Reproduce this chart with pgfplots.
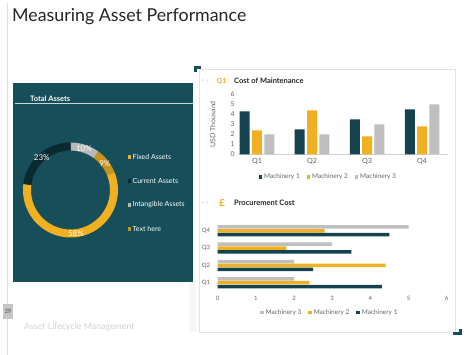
\documentclass[border=0pt]{standalone}
\usepackage{pgfplots}
\pgfplotsset{compat=1.18}
\usepackage{fontspec}
\setmainfont{Lato}
\definecolor{panel}{RGB}{22,78,90}
\definecolor{mone}{RGB}{20,66,78}
\definecolor{mtwo}{RGB}{241,176,33}
\definecolor{mthree}{RGB}{191,191,191}
\definecolor{ddark}{RGB}{11,42,48}
\definecolor{dgold}{RGB}{200,146,31}
\definecolor{dgray}{RGB}{184,184,184}
\definecolor{txt}{RGB}{100,100,100}
\begin{document}
\begin{tikzpicture}[x=1pt,y=1pt]
\path[use as bounding box] (0,0) rectangle (474,355);
\fill[white] (0,0) rectangle (474,355);
% left rule and footer
\draw[gray!25, line width=0.8pt] (7.5,0) -- (7.5,36) (7.5,51) -- (7.5,352);
\fill[gray!45] (3,36) rectangle (13,51);
\node[font=\fontsize{6}{7}\selectfont, text=black!70] at (8,43.5) {29};
\node[anchor=west, inner sep=0, font=\fontsize{8.8}{10}\selectfont, text=gray!35] at (24,28) {Asset Lifecycle Management};
% title
\node[anchor=base west, inner sep=0, font=\fontsize{17.8}{20}\selectfont, text=black!85] at (12,333.3) {Measuring Asset Performance};
% dark panel
\fill[gray!7] (189,23) rectangle (196,73);
\fill[panel] (13,73) rectangle (193,272);
\draw[cyan!20!gray!40, line width=1pt] (15,251) -- (193,251);
\node[anchor=west, inner sep=0, font=\bfseries\fontsize{7.5}{8}\selectfont, text=white] at (30,256.5) {Total Assets};
% donut (percentages 10, 9, 58, 23 clockwise from top)
\def\cx{70.5}\def\cy{165}
\def\ang{90}
\foreach \p/\c in {10/dgray,9/dgold,58/mtwo,23/ddark}{
  \pgfmathsetmacro\endang{\ang-3.6*\p}
  \fill[\c] (\cx,\cy) ++(\ang:47.5) arc[start angle=\ang,end angle=\endang,radius=47.5] -- ++(\endang:-8) arc[start angle=\endang,end angle=\ang,radius=39.5] -- cycle;
  \global\let\ang\endang
}
\def\ang{90}
\foreach \p/\c in {10/dgray,9/dgold,58/mtwo,23/ddark}{
  \pgfmathsetmacro\endang{\ang-3.6*\p}
  \pgfmathsetmacro\midang{(\ang+\endang)/2}
  \node[text=white, font=\fontsize{8}{9}\selectfont] at ([shift={(\midang:43.5)}]\cx,\cy) {\p\%};
  \global\let\ang\endang
}
\foreach \y/\c/\t in {198/mtwo/Fixed Assets,174/ddark/Current Assets,150/dgray/Intangible Assets,126/dgold/Text here}{
  \fill[\c] (127.5,\y-1.75) rectangle ++(3.5,3.5);
  \node[anchor=west, inner sep=0, text=white, font=\fontsize{7}{8}\selectfont] at (132.5,\y) {\t};
}
% right panel
\draw[gray!22, line width=0.6pt] (199,23) rectangle (455.5,286);
\fill[panel] (194,286) rectangle (201,289);
\fill[panel] (194,283) rectangle (197,289);
\fill[panel] (453,20) rectangle (462,23);
\fill[panel] (459,20) rectangle (462,26);
\node[anchor=west, inner sep=0, text=gray!40, font=\fontsize{6}{7}\selectfont] at (202,274) {» »};
\node[inner sep=0, text=mtwo, font=\bfseries\fontsize{7}{8}\selectfont] at (221.5,274) {Q1};
\node[anchor=west, inner sep=0, text=black!85, font=\bfseries\fontsize{7.5}{8}\selectfont] at (234,274) {Cost of Maintenance};
\node[anchor=west, inner sep=0, text=gray!40, font=\fontsize{6}{7}\selectfont] at (202,152) {» »};
\node[inner sep=0, text=mtwo, font=\bfseries\fontsize{10}{11}\selectfont] at (222,152) {£};
\node[anchor=west, inner sep=0, text=black!85, font=\bfseries\fontsize{7.5}{8}\selectfont] at (234,152) {Procurement Cost};
% chart 1
\begin{axis}[at={(238pt,200.7pt)}, anchor=south west, scale only axis,
  width=210pt, height=60pt,
  ybar=2.3pt, bar width=10pt,
  xmin=0.655, xmax=4.47, ymin=0, ymax=6,
  xtick={1,2,3,4}, xticklabels={Q1,Q2,Q3,Q4}, ytick={0,1,...,6},
  axis lines*=left, y axis line style={draw=none},
  x axis line style={draw=gray!35, line width=0.6pt, -},
  tick style={draw=none}, major tick length=0pt,
  /pgf/number format/assume math mode=true,
  ticklabel style={font=\fontsize{6.8}{7}\selectfont, text=txt},
  xticklabel style={font=\fontsize{7.2}{8}\selectfont},
  ylabel={USD Thousand},
  ylabel style={at={(axis description cs:-0.12,0.5)}, anchor=center, font=\fontsize{7}{8}\selectfont, text=txt},
  legend columns=3,
  legend style={draw=none, fill=none, at={(0.43,-0.38)}, anchor=center,
    font=\fontsize{6.5}{7}\selectfont, text=txt,
    /tikz/every even column/.append style={column sep=5pt}},
  legend image code/.code={\fill[#1] (0pt,-1.6pt) rectangle (3.4pt,1.8pt);},
]
\addplot[fill=mone, draw=none] coordinates {(1,4.3) (2,2.5) (3,3.5) (4,4.5)};
\addplot[fill=mtwo, draw=none] coordinates {(1,2.4) (2,4.4) (3,1.8) (4,2.8)};
\addplot[fill=mthree, draw=none] coordinates {(1,2.0) (2,2.0) (3,3.0) (4,5.0)};
\legend{Machinery 1,Machinery 2,Machinery 3}
\end{axis}
% chart 2
\begin{axis}[at={(217.7pt,63.6pt)}, anchor=south west, scale only axis,
  width=229pt, height=69.3pt,
  xbar, bar width=3.5pt,
  xmin=0, xmax=6, ymin=0.5, ymax=4.5,
  ytick={1,2,3,4}, yticklabels={Q1,Q2,Q3,Q4}, xtick={0,1,...,6},
  axis line style={draw=none},
  tick style={draw=none}, major tick length=0pt,
  /pgf/number format/assume math mode=true,
  ticklabel style={font=\fontsize{6}{7}\selectfont, text=txt},
  yticklabel style={xshift=-4pt},
  xticklabel style={yshift=-1pt},
  legend columns=3,
  legend style={draw=none, fill=none, at={(0.49,-0.31)}, anchor=center,
    font=\fontsize{6.5}{7}\selectfont, text=txt,
    /tikz/every even column/.append style={column sep=5pt}},
  legend image code/.code={\fill[#1] (0pt,-1.6pt) rectangle (3.4pt,1.8pt);},
]
\addplot[fill=mthree, draw=none, bar shift=3.9pt] coordinates {(2.0,1) (2.0,2) (3.0,3) (5.0,4)};
\addplot[fill=mtwo, draw=none, bar shift=0pt] coordinates {(2.4,1) (4.4,2) (1.8,3) (2.8,4)};
\addplot[fill=mone, draw=none, bar shift=-3.9pt] coordinates {(4.3,1) (2.5,2) (3.5,3) (4.5,4)};
\legend{Machinery 3,Machinery 2,Machinery 1}
\end{axis}
\end{tikzpicture}
\end{document}
